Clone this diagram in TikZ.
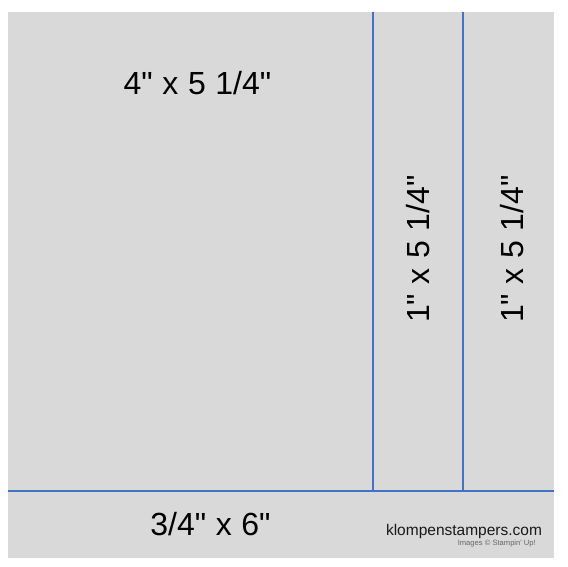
\documentclass[tikz,border=0pt]{standalone}
\usepackage{fontspec}
\setmainfont{Liberation Sans}[Ligatures=TeXOff]
\definecolor{paper}{HTML}{D9D9D9}
\definecolor{cutline}{HTML}{4472C4}
\definecolor{fine}{HTML}{666666}
\newcommand\sizelabel[1]{{\fontsize{32}{34}\selectfont\spaceskip=0.3em\relax #1}}
\begin{document}
\begin{tikzpicture}[x=1pt,y=-1pt,
  cut/.style={draw=cutline,line width=1.8pt},
  big/.style={inner sep=0pt,text=black}]
\useasboundingbox (0,0) rectangle (568,566);
\fill[paper] (8,12) rectangle (554,558);
\coordinate (v1t) at (373,12);
\coordinate (v1b) at (373,491);
\coordinate (v2t) at (463,12);
\coordinate (v2b) at (463,491);
\coordinate (hl) at (8,491);
\coordinate (hr) at (554,491);
\draw[cut] (v1t) -- (v1b);
\draw[cut] (v2t) -- (v2b);
\draw[cut] (hl) -- (hr);
\node[big] (main) at (197.5,83) {\sizelabel{4" x 5 1/4"}};
\node[big] (strip) at (210.5,524) {\sizelabel{3/4" x 6"}};
\node[big,rotate=90] (s1) at (418,249) {\sizelabel{1" x 5 1/4"}};
\node[big,rotate=90] (s2) at (512,249) {\sizelabel{1" x 5 1/4"}};
\node[font=\fontsize{15.5}{17}\selectfont,inner sep=0pt,text=black!90] (web) at (464,531) {klompenstampers.com};
\node[font=\fontsize{7.6}{8}\selectfont,inner sep=0pt,text=fine,anchor=east] (copy) at (536,543.5) {Images © Stampin' Up!};
\end{tikzpicture}
\end{document}
